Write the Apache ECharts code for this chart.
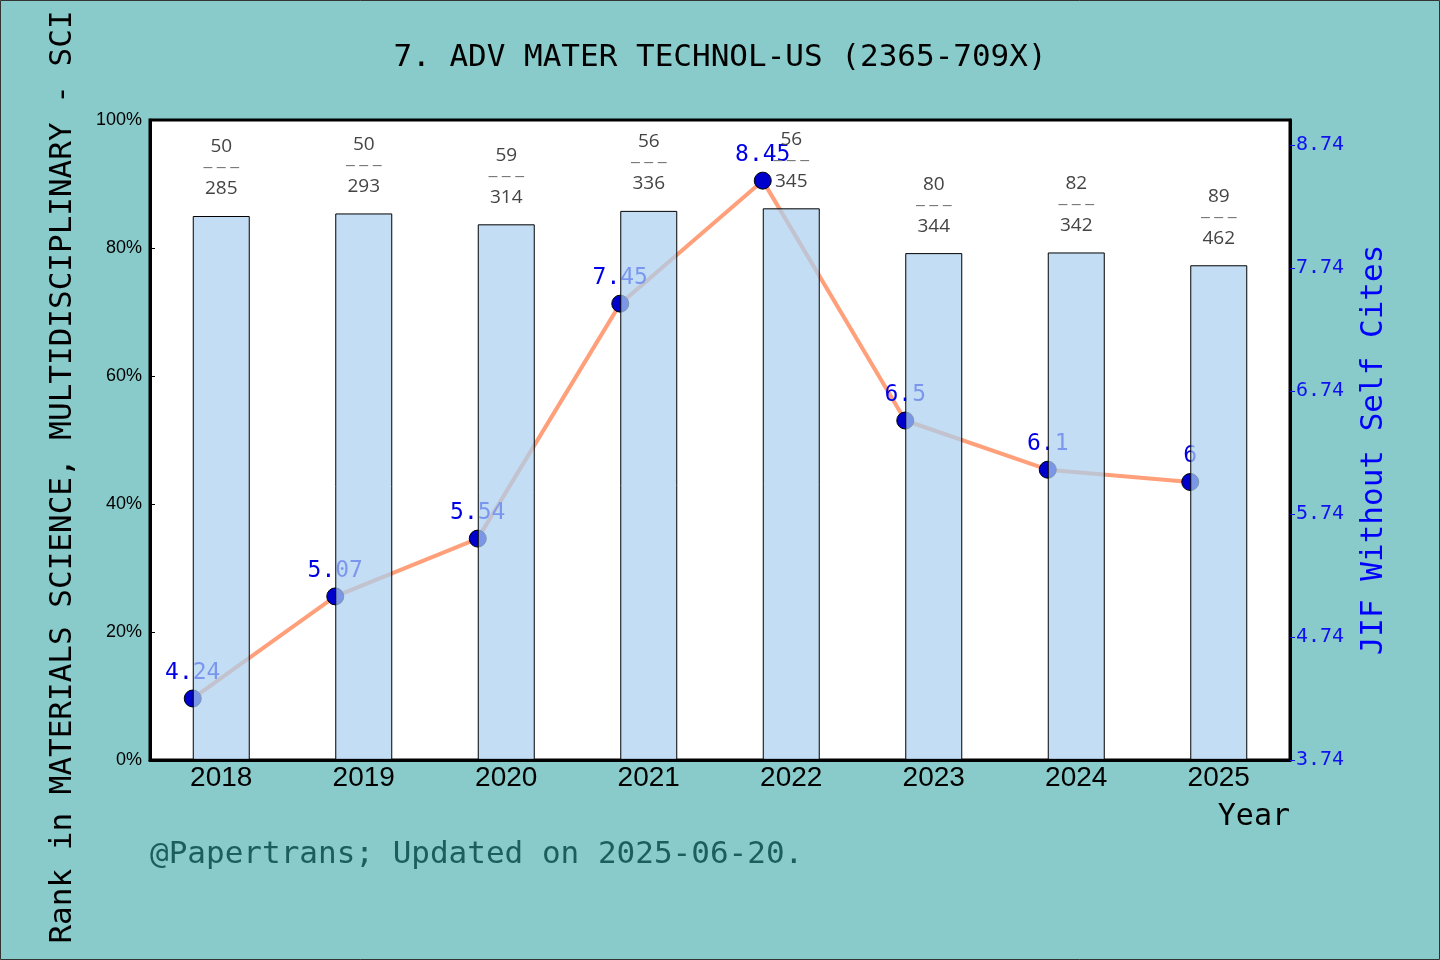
<!DOCTYPE html>
<html>
<head>
<meta charset="utf-8">
<script src="https://cdn.jsdelivr.net/npm/echarts@6/dist/echarts.min.js"></script>
<style>
  html, body { margin: 0; padding: 0; background: #88cbca; }
  #chart { width: 1440px; height: 960px; }
</style>
</head>
<body>
<div id="chart"></div>
<script>
// values
const years = ["2018", "2019", "2020", "2021", "2022", "2023", "2024", "2025"];
const ranks = [50, 50, 59, 56, 56, 80, 82, 89];
const totals = [285, 293, 314, 336, 345, 344, 342, 462];
const rankPct = [85.0, 85.4, 83.7, 85.8, 86.2, 79.2, 79.3, 77.3];
const jif = [4.24, 5.07, 5.54, 7.45, 8.45, 6.5, 6.1, 6];
const jifTicks = [3.74, 4.74, 5.74, 6.74, 7.74, 8.74];

const mono = "DejaVu Sans Mono";
const chart = echarts.init(document.getElementById("chart"));

chart.setOption({
  animation: false,
  backgroundColor: "#88cbca",
  title: {
    text: "7. ADV MATER TECHNOL-US (2365-709X)",
    left: "center",
    top: 37,
    textStyle: { fontFamily: mono, fontSize: 31, fontWeight: "normal", color: "#000" }
  },
  grid: {
    left: 150, right: 150, top: 120, bottom: 200,
    show: true, backgroundColor: "#fff", borderColor: "#000", borderWidth: 3
  },
  xAxis: [
    {
      type: "category",
      data: years,
      boundaryGap: true,
      axisLine: { onZero: false, lineStyle: { color: "#000", width: 3 } },
      axisTick: { inside: true, length: 5, lineStyle: { color: "#000" } },
      axisLabel: { fontFamily: "Liberation Sans", fontSize: 28, color: "#000", margin: 4 }
    },
    {
      type: "value",
      min: -0.5,
      max: years.length - 0.5,
      show: false
    }
  ],
  yAxis: [
    {
      type: "value",
      min: 0, max: 100, interval: 20,
      splitLine: { show: false },
      axisLine: { show: true, onZero: false, lineStyle: { color: "#000", width: 3 } },
      axisTick: { show: true, inside: true, length: 5, lineStyle: { color: "#000" } },
      axisLabel: { formatter: "{value}%", fontFamily: "Liberation Sans", fontSize: 18, color: "#000", margin: 8 }
    },
    {
      type: "value",
      position: "right",
      min: jifTicks[0], max: 8.943,
      splitLine: { show: false },
      axisLine: { show: true, onZero: false, lineStyle: { color: "#000", width: 3 } },
      axisTick: { show: true, length: 5, customValues: jifTicks, lineStyle: { color: "#1010f0" } },
      axisLabel: {
        customValues: jifTicks,
        formatter: v => v.toFixed(2),
        fontFamily: mono, fontSize: 20, color: "#1010f0", margin: 6
      }
    }
  ],
  graphic: [
    {
      type: "text",
      x: 63, y: 477, rotation: Math.PI / 2,
      style: {
        text: "Rank in MATERIALS SCIENCE, MULTIDISCIPLINARY - SCI",
        font: "31px " + mono, fill: "#000", align: "center", verticalAlign: "middle"
      }
    },
    {
      type: "text",
      x: 1374, y: 450, rotation: Math.PI / 2,
      style: {
        text: "JIF Without Self Cites",
        font: "31px " + mono, fill: "#0000ff", align: "center", verticalAlign: "middle"
      }
    },
    {
      type: "text",
      x: 1290, y: 817,
      style: { text: "Year", font: "30px " + mono, fill: "#000", align: "right", verticalAlign: "middle" }
    },
    {
      type: "text",
      x: 150, y: 855,
      style: {
        text: "@Papertrans; Updated on 2025-06-20.",
        font: "31px " + mono, fill: "#1b5e5c", align: "left", verticalAlign: "middle"
      }
    },
    {
      type: "rect",
      shape: { x: 0.5, y: 0.5, width: 1439, height: 959 },
      style: { fill: null, stroke: "#333", lineWidth: 1 },
      silent: true
    }
  ],
  series: [
    {
      type: "bar",
      xAxisIndex: 0,
      yAxisIndex: 0,
      barWidth: "40%",
      z: 3,
      data: rankPct,
      itemStyle: { color: "rgba(170,208,240,0.72)", borderColor: "#000", borderWidth: 1 },
      label: {
        show: true,
        position: "top",
        distance: 16,
        formatter: p => "{n|" + ranks[p.dataIndex] + "}\n{d|– – –}\n{n|" + totals[p.dataIndex] + "}",
        rich: {
          n: { fontFamily: "Open Sans", fontSize: 19, color: "#444", lineHeight: 22, align: "center" },
          d: { fontFamily: "Liberation Sans", fontSize: 16, color: "#777", lineHeight: 20, align: "center" }
        }
      }
    },
    {
      type: "line",
      xAxisIndex: 1,
      yAxisIndex: 1,
      z: 1,
      // points sit at the left edge of each bar (half the 40% bar width)
      data: jif.map((v, i) => [i - 0.2, v]),
      lineStyle: { color: "#ffa07a", width: 4 },
      symbol: "circle",
      symbolSize: 17,
      itemStyle: { color: "#0000cd", borderColor: "#000", borderWidth: 1 },
      label: {
        show: true,
        position: "top",
        formatter: p => String(p.value[1]),
        fontFamily: mono, fontSize: 23, color: "#0000e6"
      }
    }
  ]
});
</script>
</body>
</html>
